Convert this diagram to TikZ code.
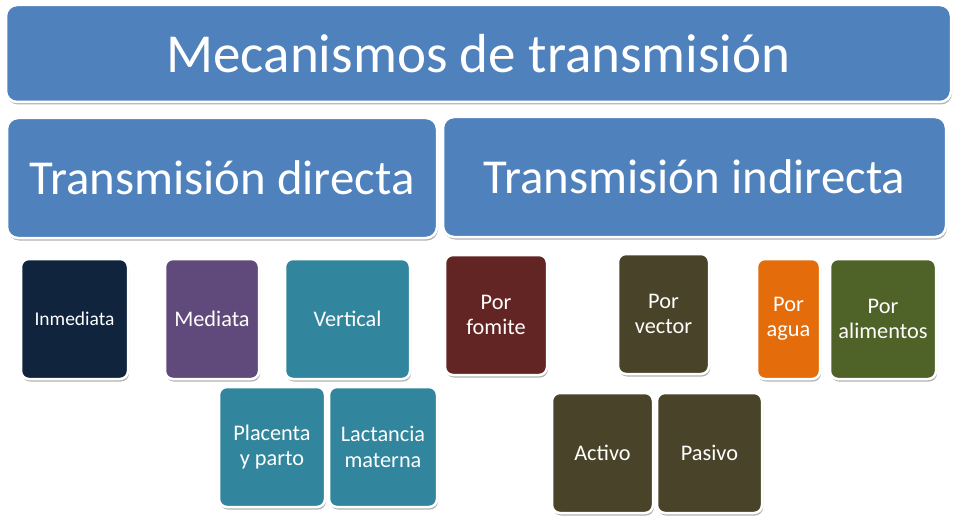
\documentclass[tikz,border=0pt]{standalone}
\usepackage{fontspec}
\setmainfont{Carlito}
\usepackage{xcolor}
\usetikzlibrary{shapes,positioning,shadows}

\definecolor{headblue}{HTML}{4F81BD}
\definecolor{navy}{HTML}{10243E}
\definecolor{plum}{HTML}{604A7B}
\definecolor{teal}{HTML}{31859C}
\definecolor{maroon}{HTML}{632523}
\definecolor{olive}{HTML}{494429}
\definecolor{pumpkin}{HTML}{E46C0A}
\definecolor{moss}{HTML}{4F6228}

\tikzset{
  box/.style={rectangle, rounded corners=8pt, draw=white, line width=2.5pt,
    text=white, align=center, inner sep=0pt, minimum height=120pt,
    drop shadow={shadow xshift=1pt, shadow yshift=-2.5pt, fill=black, opacity=0.3},
    font=\fontsize{22.3}{25.5}\selectfont},
  headbox/.style={box, fill=headblue, rounded corners=11pt,
    font=\fontsize{48.8}{58}\selectfont}
}

\begin{document}
\begin{tikzpicture}[x=1pt,y=-1pt]
\useasboundingbox (0,0) rectangle (960,524);

% top level
\node[headbox, minimum width=945pt, minimum height=97pt, font=\fontsize{55}{65}\selectfont]
  (mecanismos) at (478.5,53.5) {Mecanismos de transmisión};

% second level
\node[headbox, minimum width=430pt] (directa) at (222,178) {Transmisión directa};
\node[headbox, minimum width=503pt] (indirecta) at (694.5,177) {Transmisión indirecta};

% directa
\node[box, fill=navy, minimum width=107pt, font=\fontsize{19.5}{23}\selectfont]
  (inmediata) at (74.5,319) {Inmediata};
\node[box, fill=plum, minimum width=94pt] (mediata) at (212,319) {Mediata};
\node[box, fill=teal, minimum width=125pt] (vertical) at (347.5,319) {Vertical};
\node[box, fill=teal, minimum width=106pt] (placenta) at (272,447) {Placenta\\y parto};
\node[box, fill=teal, minimum width=108pt] (lactancia) at (383,447) {Lactancia\\materna};

% indirecta
\node[box, fill=maroon, minimum width=102pt] (fomite) at (496,315) {Por\\fomite};
\node[box, fill=olive, minimum width=91pt] (vector) at (663.5,314) {Por\\vector};
\node[box, fill=pumpkin, minimum width=63pt] (agua) at (788.5,319) {Por\\agua};
\node[box, fill=moss, minimum width=106pt] (alimentos) at (883,319) {Por\\alimentos};
\node[box, fill=olive, minimum width=101pt] (activo) at (602.5,453) {Activo};
\node[box, fill=olive, minimum width=105pt] (pasivo) at (709.5,453) {Pasivo};
\end{tikzpicture}
\end{document}
